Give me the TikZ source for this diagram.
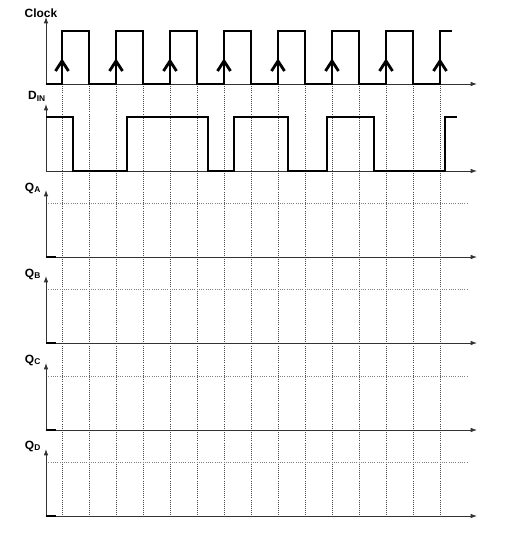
\documentclass[tikz,border=0pt]{standalone}
\usepackage{fontspec}
\setmainfont{Liberation Sans}
\usepackage{tikz}
\usetikzlibrary{arrows.meta}
\usetikzlibrary{positioning}

\begin{document}
\begin{tikzpicture}[x=0.025cm,y=-0.025cm]
    \tikzstyle{every node}=[font=\bfseries\fontsize{8.5}{10}\selectfont,inner sep=0pt]
    \tikzstyle{axis}=[draw=black!80,line width=0.6pt,-{Latex[length=4.5pt,width=3.2pt]}]
    \tikzstyle{wave}=[draw=black,line width=2.1pt]
    \tikzstyle{edgeline}=[draw=black!70,densely dotted,line width=0.5pt]
    \tikzstyle{levelline}=[draw=black!50,densely dotted,line width=0.6pt]

    \useasboundingbox (0,0) rectangle (532,533);

    % baselines and axis ends
    \foreach \name/\y in {clk/84,din/171,qa/257,qb/343,qc/430,qd/516}{
      \coordinate (\name-o) at (46,\y);
      \coordinate (\name-x) at (477,\y);
      \coordinate (\name-y) at (46,\y-67);
    }

    % dotted lines at every clock edge
    \foreach \k in {0,...,7} \draw[edgeline] (62+54*\k,84) -- (62+54*\k,516) ;
    \foreach \k in {0,...,6} \draw[edgeline] (89+54*\k,84) -- (89+54*\k,516) ;

    % high level of the Q outputs
    \foreach \name/\y in {qa/203,qb/289,qc/376,qd/462}
      \draw[levelline] (46,\y) -- (467,\y) ;

    \foreach \name in {clk,din,qa,qb,qc,qd}{
      \draw[axis] (\name-o) -- (\name-x) ;
      \draw[axis] (\name-o) -- (\name-y) ;
    }

    \node (clklabel) at (41,13) {Clock} ;
    \node (dinlabel) at (37,96) {D\textsubscript{IN}} ;
    \node (qalabel)  at (33,188) {Q\textsubscript{A}} ;
    \node (qblabel)  at (33,274) {Q\textsubscript{B}} ;
    \node (qclabel)  at (33,360) {Q\textsubscript{C}} ;
    \node (qdlabel)  at (33,446) {Q\textsubscript{D}} ;

    % clock
    \draw[wave] (clk-o) foreach \k in {0,...,6}{ -| (62+54*\k,31) -| (89+54*\k,84) }
                -| (440,31) -- (452,31) ;
    \foreach \k in {0,...,7}
      \draw[line width=2pt] (55.5+54*\k,71) -- (62+54*\k,61) -- (68.5+54*\k,71) ;

    % data in
    \draw[wave] (46,117) -| (73,171) -| (127,117) -| (208,171) -| (234,117)
                -| (288,171) -| (327,117) -| (374,171) -| (445,117) -- (457,117) ;

    % start of the outputs
    \foreach \name in {qa,qb,qc,qd}
      \draw[wave] (\name-o) -- ++(10,0) ;

\end{tikzpicture}
\end{document}
